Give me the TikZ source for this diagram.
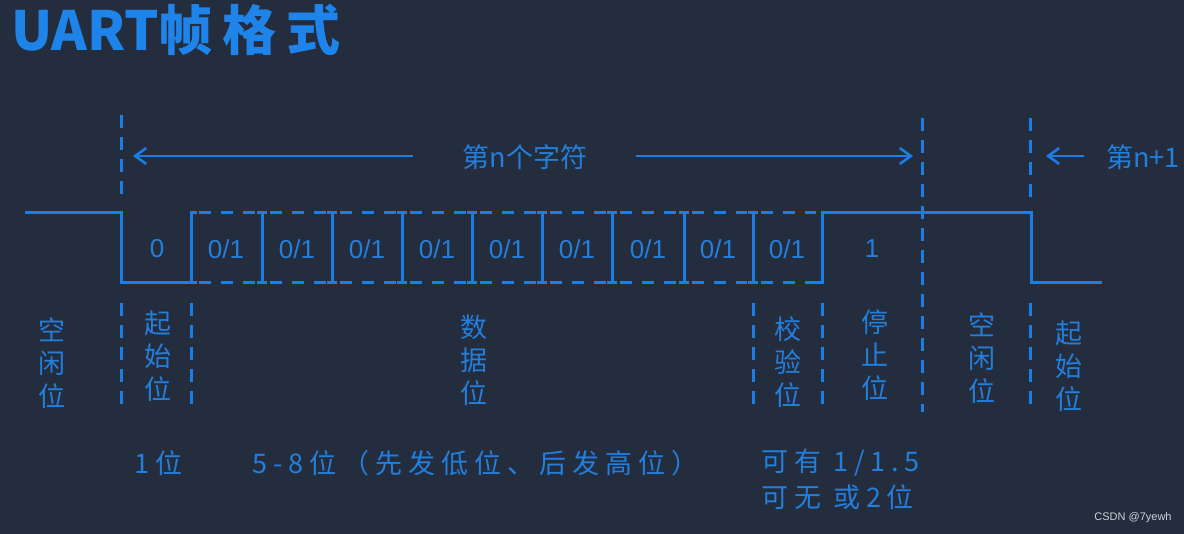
\documentclass[tikz,border=0pt]{standalone}
\usepackage{fontspec}
\setmainfont{Noto Sans CJK SC}
\newfontfamily\wmfont{Liberation Sans}
\newfontfamily\bitfont{Liberation Sans}
\usetikzlibrary{arrows.meta}
\definecolor{bg}{RGB}{35,45,61}
\definecolor{wave}{RGB}{28,126,228}
\definecolor{txt}{RGB}{36,126,220}
\definecolor{ttl}{RGB}{30,132,234}
\begin{document}
\begin{tikzpicture}[x=1pt,y=-1pt,
  wire/.style={wave, line width=3pt, line join=miter},
  vdash/.style={wave, line width=3pt, dash pattern=on 13pt off 9pt},
  hdash/.style={wave, line width=3pt, dash pattern=on 12pt off 10pt},
  arr/.style={wave, line width=2.6pt, -{Straight Barb[length=11pt,width=16pt,line width=2.6pt]}},
  lbl/.style={text=txt, font=\fontsize{27}{33}\selectfont, inner sep=0pt, align=center},
  bit/.style={text=txt, font=\bitfont\fontsize{26}{30}\selectfont, inner sep=0pt},
  note/.style={text=txt, font=\fontsize{27}{34}\selectfont\addfontfeature{LetterSpace=22}, inner sep=0pt, anchor=west}]
\fill[bg] (0,0) rectangle (1184,534);
\useasboundingbox (0,0) rectangle (1184,534);

% title
\node[text=ttl, font=\fontsize{54}{60}\selectfont\bfseries, inner sep=0pt, anchor=west] (title) at (11,30) {UART帧\hspace{10pt}格\hspace{10pt}式};

% top dashed lines
\draw[vdash] (121,115) -- (121,197);
\draw[vdash] (922,118) -- (922,412);
\draw[vdash] (1030,118) -- (1030,199);
% bottom dashed lines
\foreach \x in {121,191,753,822,1030} \draw[vdash] (\x,303) -- (\x,412);

% top arrows
\coordinate (a1) at (413,156);
\coordinate (a1t) at (133,156);
\coordinate (a2) at (636,156);
\coordinate (a2t) at (913,156);
\coordinate (a3) at (1084,156);
\coordinate (a3t) at (1046,156);
\draw[arr] (a1) -- (a1t);
\draw[arr] (a2) -- (a2t);
\draw[arr] (a3) -- (a3t);
\node[lbl] (nchar) at (525,157) {第n个字符};
\node[lbl, anchor=west] (n1char) at (1106,157) {第n+1};

% waveform
\draw[wire] (25,213) -- (121,213) -- (121,283) -- (191,283) -- (191,213) -- (197,213);
\draw[wire] (816,283) -- (822,283) -- (822,213) -- (1031,213) -- (1031,283) -- (1102,283);
\foreach \a/\b in {191/262,262/332,332/402,402/472,472/542,542/612,612/684,684/753,753/822}{
  \draw[hdash] (\a+8,213) -- (\b-6,213);
  \draw[hdash] (\a+8,283) -- (\b-6,283);
}
\draw[wire] (191,283) -- (197,283);
\foreach \x in {262,332,402,472,542,612,684,753}
  \draw[wire] (\x-5,213) -- (\x+5,213) (\x,213) -- (\x,283) (\x-5,283) -- (\x+5,283);

% bit values
\node[bit] (b0) at (157,249) {0};
\foreach \c [count=\i] in {226,297,367,437,507,577,648,718,787}
  \node[bit] (d\i) at (\c,249) {0/1};
\node[bit] (b1) at (872,249) {1};

% vertical labels
\node[lbl] (idle1) at (52,363) {空\\闲\\位};
\node[lbl] (start1) at (158,356) {起\\始\\位};
\node[lbl] (data) at (474,360) {数\\据\\位};
\node[lbl] (par) at (788,362) {校\\验\\位};
\node[lbl] (stop) at (875,355) {停\\止\\位};
\node[lbl] (idle2) at (982,358) {空\\闲\\位};
\node[lbl] (start2) at (1069,366) {起\\始\\位};

% bottom notes
\node[note] (n1) at (134,463) {1位};
\node[note] (n2) at (252,463) {5-8位（先发低位、后发高位）};
\node[note] (n3) at (761,463) {可有 1/1.5};
\node[note] (n4) at (761,497) {可无 或2位};

% watermark
\node[text={rgb,255:red,205;green,210;blue,215}, font=\wmfont\fontsize{11}{13}\selectfont, inner sep=0pt] (wm) at (1133,518) {CSDN @7yewh};
\end{tikzpicture}
\end{document}
